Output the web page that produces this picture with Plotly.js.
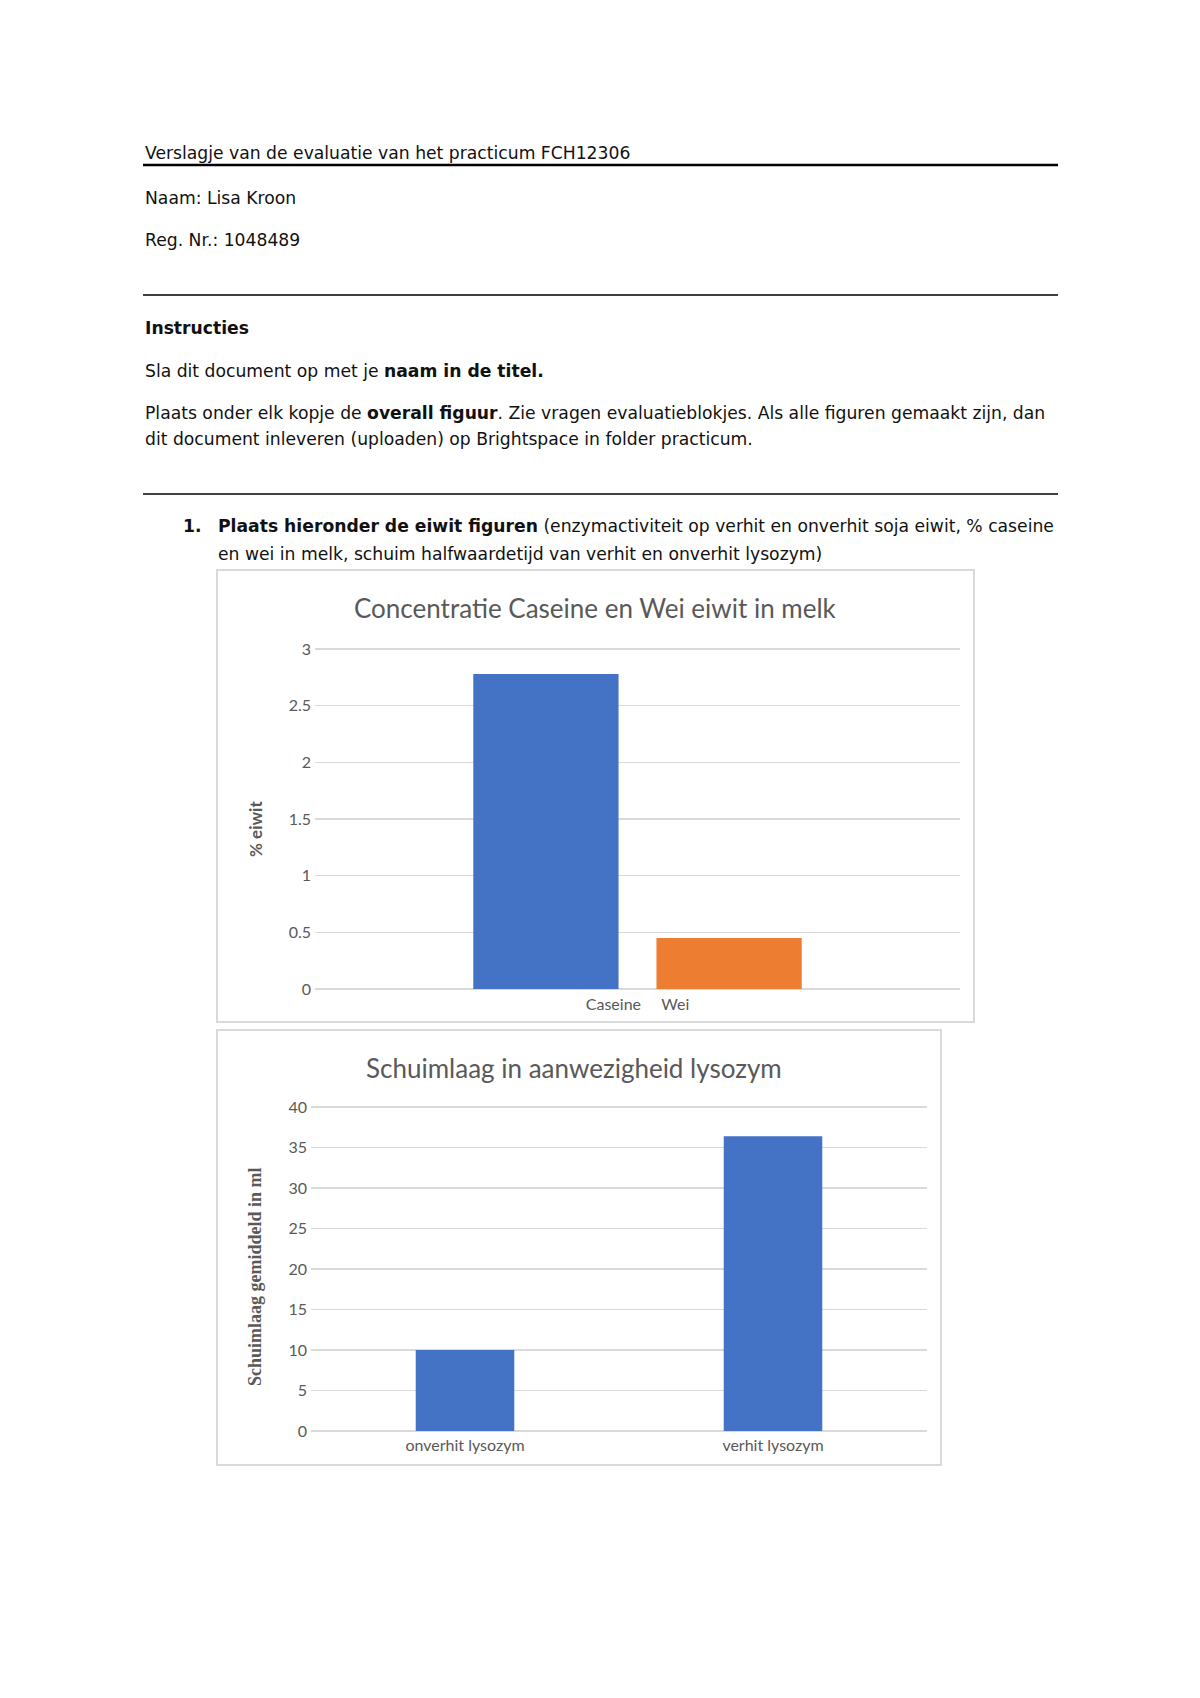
<!DOCTYPE html>
<html>
<head>
<meta charset="utf-8">
<script src="https://cdn.plot.ly/plotly-3.0.1.min.js"></script>
<style>html,body{margin:0;padding:0;background:#fff;}#page{width:1200px;height:1698px;}</style>
</head>
<body>
<div id="page"></div>
<script>
// ---- data ----
const caseineWeiCategory = ['Caseine\u00a0\u00a0\u00a0\u00a0\u00a0Wei'];
const caseineValues = [2.78];
const weiValues = [0.45];
const lysozymCategories = ['onverhit lysozym', 'verhit lysozym'];
const schuimlaagValues = [10, 36.4];
const chart1Ticks = [0, 0.5, 1, 1.5, 2, 2.5, 3];
const chart2Ticks = [0, 5, 10, 15, 20, 25, 30, 35, 40];

const chart1Title = 'Concentratie Caseine en Wei eiwit in melk';
const chart2Title = 'Schuimlaag in aanwezigheid lysozym';
const chart1YTitle = '% eiwit';
const chart2YTitle = 'Schuimlaag gemiddeld in ml';

// ---- helpers for page placement ----
const W = 1200, H = 1698;
const px = x => x / W;
const py = y => 1 - y / H;

const BODY = 'DejaVu Sans, Verdana, sans-serif';
const CHART = 'Lato, Open Sans, sans-serif';
const GREY = '#595959';
const GRID = '#d9d9d9';

const bodyLines = [
  {x: 143, y: 153, t: 'Verslagje van de evaluatie van het practicum FCH12306'},
  {x: 143, y: 198, t: 'Naam: Lisa Kroon'},
  {x: 143, y: 240, t: 'Reg. Nr.: 1048489'},
  {x: 143, y: 328, t: '<b>Instructies</b>'},
  {x: 143, y: 371, t: 'Sla dit document op met je <b>naam in de titel.</b>'},
  {x: 143, y: 413, t: 'Plaats onder elk kopje de <b>overall figuur</b>. Zie vragen evaluatieblokjes. Als alle figuren gemaakt zijn, dan'},
  {x: 143, y: 439, t: 'dit document inleveren (uploaden) op Brightspace in folder practicum.'},
  {x: 181, y: 526, t: '<b>1.</b>'},
  {x: 216, y: 526, t: '<b>Plaats hieronder de eiwit figuren</b> (enzymactiviteit op verhit en onverhit soja eiwit, % caseine'},
  {x: 216, y: 554, t: 'en wei in melk, schuim halfwaardetijd van verhit en onverhit lysozym)'}
];

const annotations = bodyLines.map(l => ({
  xref: 'paper', yref: 'paper', x: px(l.x), y: py(l.y),
  xanchor: 'left', yanchor: 'middle', showarrow: false,
  text: l.t, font: {family: BODY, size: 17.2, color: '#111'}
}));

annotations.push({
  xref: 'paper', yref: 'paper', x: px(595), y: py(608), xanchor: 'center', yanchor: 'middle',
  showarrow: false, text: chart1Title, font: {family: CHART, size: 26, color: GREY}
});
annotations.push({
  xref: 'paper', yref: 'paper', x: px(574), y: py(1068), xanchor: 'center', yanchor: 'middle',
  showarrow: false, text: chart2Title, font: {family: CHART, size: 26, color: GREY}
});
annotations.push({
  xref: 'paper', yref: 'paper', x: px(255), y: py(829), xanchor: 'center', yanchor: 'middle', textangle: -90,
  showarrow: false, text: '<b>' + chart1YTitle + '</b>', font: {family: CHART, size: 17, color: GREY}
});
annotations.push({
  xref: 'paper', yref: 'paper', x: px(255), y: py(1277), xanchor: 'center', yanchor: 'middle', textangle: -90,
  showarrow: false, text: '<b>' + chart2YTitle + '</b>', font: {family: 'Liberation Serif, serif', size: 18, color: GREY}
});

const shapes = [
  {type: 'line', xref: 'paper', yref: 'paper', x0: px(143), x1: px(1058), y0: py(165), y1: py(165), line: {color: '#000', width: 2.5}},
  {type: 'line', xref: 'paper', yref: 'paper', x0: px(143), x1: px(1058), y0: py(295), y1: py(295), line: {color: '#000', width: 1.3}},
  {type: 'line', xref: 'paper', yref: 'paper', x0: px(143), x1: px(1058), y0: py(494), y1: py(494), line: {color: '#000', width: 1.3}},
  {type: 'rect', xref: 'paper', yref: 'paper', x0: px(217), x1: px(974), y0: py(570), y1: py(1022), line: {color: GRID, width: 2}},
  {type: 'rect', xref: 'paper', yref: 'paper', x0: px(217), x1: px(941), y0: py(1030), y1: py(1465), line: {color: GRID, width: 2}}
];

const traces = [
  {type: 'bar', x: caseineWeiCategory, y: caseineValues, name: 'Caseine', marker: {color: '#4472C4'}, xaxis: 'x', yaxis: 'y', hoverinfo: 'none'},
  {type: 'bar', x: caseineWeiCategory, y: weiValues, name: 'Wei', marker: {color: '#ED7D31'}, xaxis: 'x', yaxis: 'y', hoverinfo: 'none'},
  {type: 'bar', x: lysozymCategories, y: schuimlaagValues, name: 'Schuimlaag', marker: {color: '#4472C4'}, xaxis: 'x2', yaxis: 'y2', hoverinfo: 'none', width: 0.32}
];

const tickFont = {family: CHART, size: 16, color: GREY};

// pixel placement of the plot areas (range extended a hair so the top gridline is drawn)
const ext = 1.004;
const c1 = {l: 315, r: 960, top: 649, bot: 989};
const c2 = {l: 311, r: 927, top: 1107, bot: 1431};
const topWithExt = c => c.bot - (c.bot - c.top) * ext;

const layout = {
  width: W, height: H,
  margin: {l: 0, r: 0, t: 0, b: 0},
  paper_bgcolor: '#fff', plot_bgcolor: 'rgba(0,0,0,0)',
  showlegend: false,
  barmode: 'group', bargap: 0.432, bargroupgap: 0.207,
  xaxis: {domain: [px(c1.l), px(c1.r)], anchor: 'y', showgrid: false, showline: false, zeroline: false,
          ticks: '', tickfont: tickFont, ticklabelstandoff: 4, fixedrange: true},
  yaxis: {domain: [py(c1.bot), py(topWithExt(c1))], anchor: 'x', range: [0, chart1Ticks[chart1Ticks.length - 1] * ext],
          tickmode: 'array', tickvals: chart1Ticks, ticktext: chart1Ticks.map(String),
          showgrid: true, gridcolor: GRID, gridwidth: 1.5, zeroline: true, zerolinecolor: GRID, zerolinewidth: 1.5,
          showline: false, ticks: '', tickfont: tickFont, ticklabelstandoff: 3, fixedrange: true},
  xaxis2: {domain: [px(c2.l), px(c2.r)], anchor: 'y2', showgrid: false, showline: false, zeroline: false,
           ticks: '', tickfont: tickFont, ticklabelstandoff: 3, fixedrange: true},
  yaxis2: {domain: [py(c2.bot), py(topWithExt(c2))], anchor: 'x2', range: [0, chart2Ticks[chart2Ticks.length - 1] * ext],
           tickmode: 'array', tickvals: chart2Ticks, ticktext: chart2Ticks.map(String),
           showgrid: true, gridcolor: GRID, gridwidth: 1.5, zeroline: true, zerolinecolor: GRID, zerolinewidth: 1.5,
           showline: false, ticks: '', tickfont: tickFont, ticklabelstandoff: 3, fixedrange: true},
  annotations: annotations,
  shapes: shapes
};

Plotly.newPlot('page', traces, layout, {displayModeBar: false, staticPlot: true});
</script>
</body>
</html>
